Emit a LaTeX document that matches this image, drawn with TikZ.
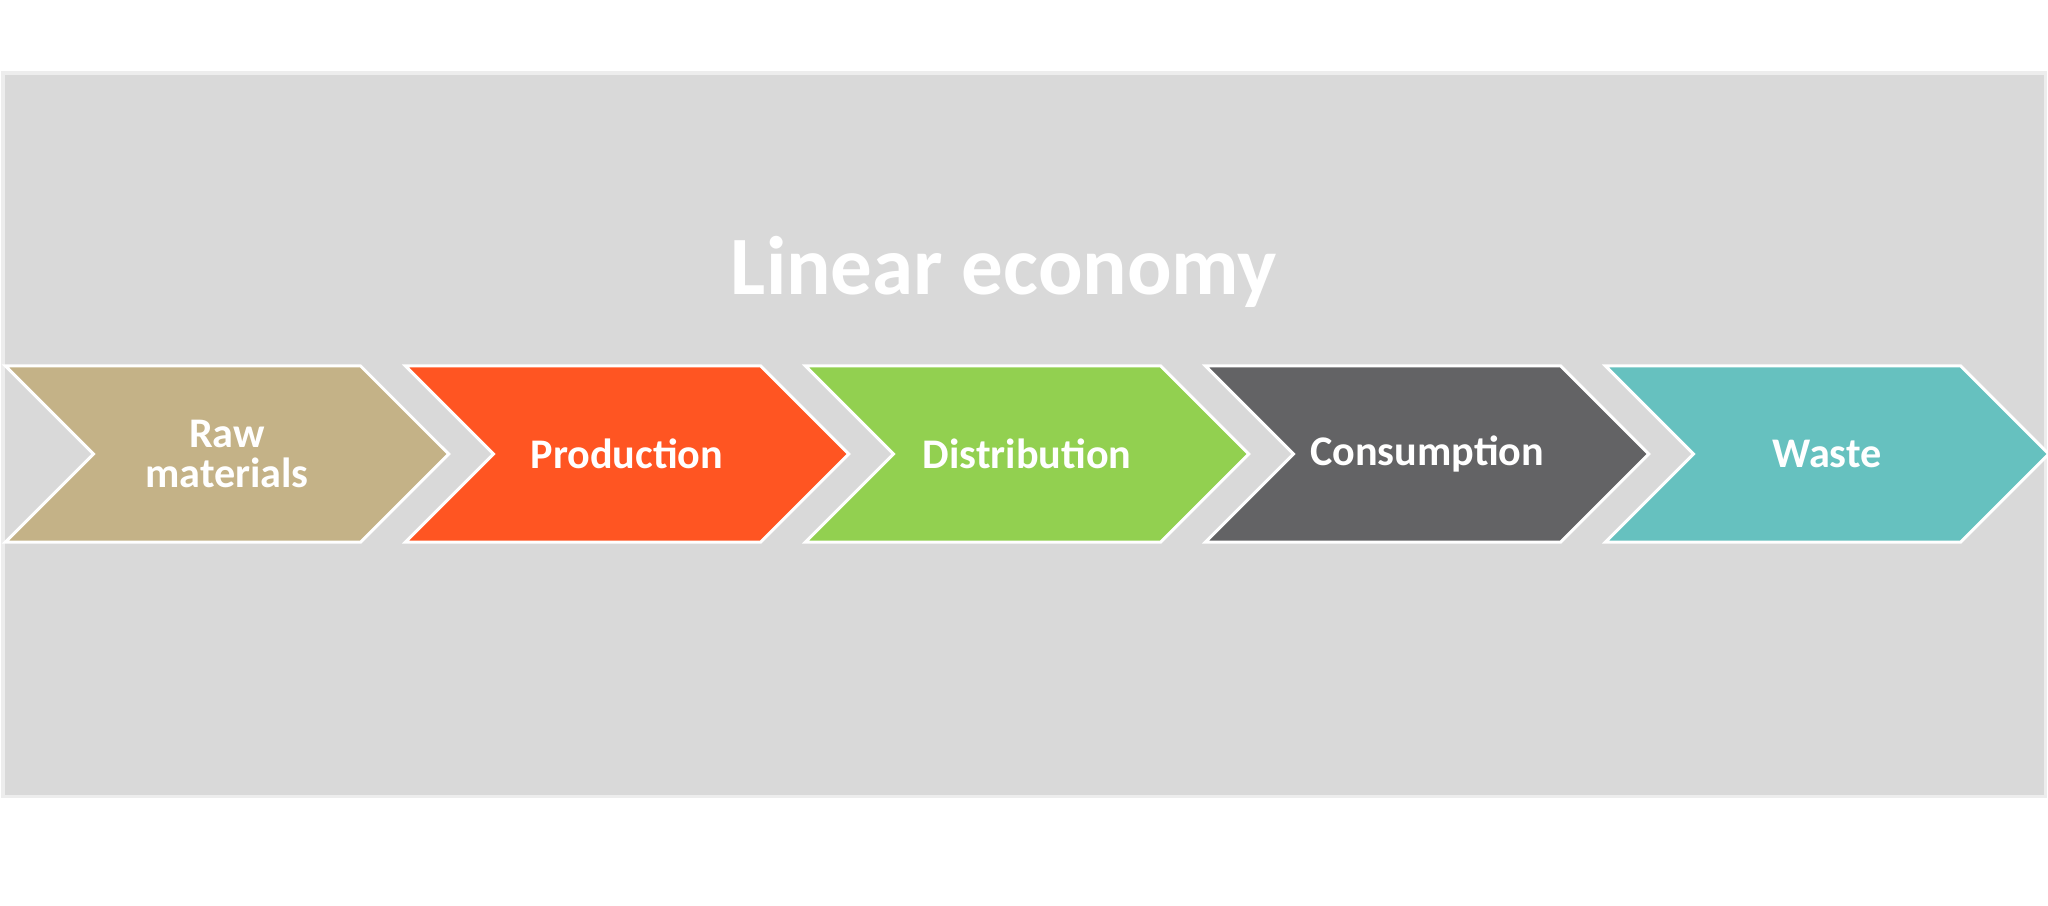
\documentclass[tikz,border=0pt]{standalone}
\usepackage{fontspec}
\setmainfont{Carlito}
\usepackage{tikz}
\usetikzlibrary{shapes.symbols, positioning}

\definecolor{bggray}{HTML}{D9D9D9}
\definecolor{paneledge}{HTML}{EDEDED}
\definecolor{rawtan}{HTML}{C4B287}
\definecolor{prodorange}{HTML}{FF5522}
\definecolor{distgreen}{HTML}{92D050}
\definecolor{consgray}{HTML}{636365}
\definecolor{wasteteal}{HTML}{66C1BF}

\begin{document}
\begin{tikzpicture}[x=0.01cm, y=-0.01cm,
    stage/.style={signal, signal to=east, signal from=west, signal pointer angle=90,
        draw=white, line width=0.03cm, minimum width=4.43cm, minimum height=1.76cm,
        inner sep=0pt, outer sep=0pt, align=center, text=white,
        font=\bfseries\fontsize{12}{11.4}\selectfont},
    heading/.style={text=white, inner sep=0pt, font=\bfseries\fontsize{23.6}{28}\selectfont}
]
\useasboundingbox (0,0) rectangle (2048,906);

% Background panel
\fill[white] (0,0) rectangle (2048,906);
\draw[draw=paneledge, fill=bggray, line width=0.03cm] (3,73) rectangle (2045,796);

% Title
\node[heading, anchor=base] (title) at (1004,294) {Linear economy};

% Stages
\node[stage, fill=rawtan] (raw) at (227,454) {Raw\\materials};
\node[stage, fill=prodorange] (prod) at (627,454) {Production};
\node[stage, fill=distgreen] (dist) at (1027,454) {Distribution};
\node[stage, fill=consgray] (cons) at (1427,454) {Consumption};
\node[stage, fill=wasteteal] (waste) at (1827,454) {Waste};

\end{tikzpicture}
\end{document}
